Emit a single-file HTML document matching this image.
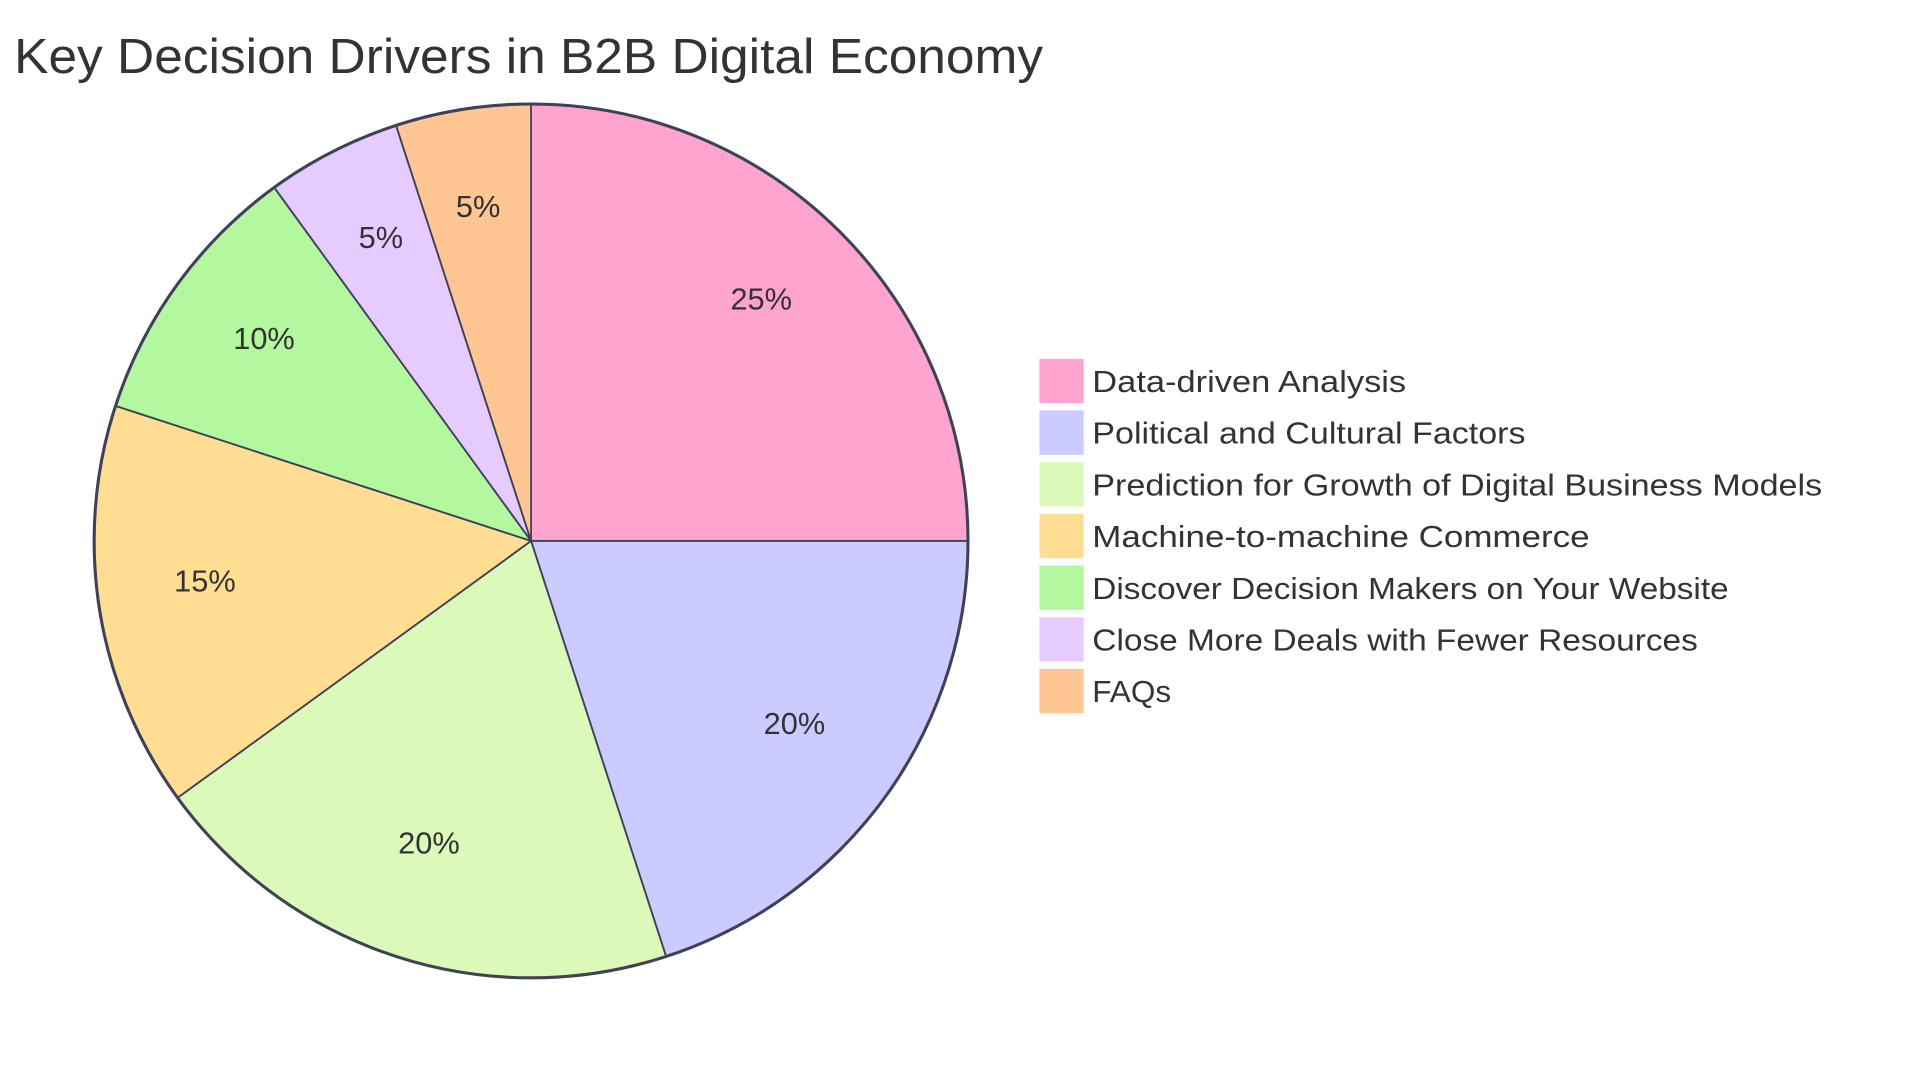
<!DOCTYPE html>
<html><head><meta charset="utf-8"><style>
html,body{margin:0;padding:0;background:#fff;width:1920px;height:1080px;overflow:hidden}
svg{display:block}
text{font-family:"Liberation Sans",sans-serif;fill:#333}
</style></head><body>
<svg width="1920" height="1080" viewBox="0.5 0.5 1560 877.5">
<text x="12" y="60" font-size="40" textLength="836" lengthAdjust="spacingAndGlyphs" style="fill:#333">Key Decision Drivers in B2B Digital Economy</text>
<g stroke="#3f4157" stroke-width="1.5" stroke-linejoin="round">
<path d="M432,440 L432,85 A355,355 0 0 1 787,440 Z" fill="#FFA3CF"/>
<path d="M432,440 L787,440 A355,355 0 0 1 541.7,777.6 Z" fill="#CBCBFF"/>
<path d="M432,440 L541.7,777.6 A355,355 0 0 1 144.8,648.7 Z" fill="#DBF9B8"/>
<path d="M432,440 L144.8,648.7 A355,355 0 0 1 94.4,330.3 Z" fill="#FFDE94"/>
<path d="M432,440 L94.4,330.3 A355,355 0 0 1 223.3,152.8 Z" fill="#B3F89E"/>
<path d="M432,440 L223.3,152.8 A355,355 0 0 1 322.3,102.4 Z" fill="#E6CBFF"/>
<path d="M432,440 L322.3,102.4 A355,355 0 0 1 432,85 Z" fill="#FFC694"/>
</g>
<circle cx="432" cy="440" r="355" fill="none" stroke="#3f4157" stroke-width="2.5"/>
<g font-size="25" text-anchor="middle">
<text x="619" y="252">25%</text>
<text x="646" y="597">20%</text>
<text x="349" y="694">20%</text>
<text x="167" y="481">15%</text>
<text x="215" y="284">10%</text>
<text x="310" y="202">5%</text>
<text x="389" y="177">5%</text>
</g>
<g>
<rect x="845" y="292" width="36" height="36" fill="#FFA3CF"/>
<rect x="845" y="334" width="36" height="36" fill="#CBCBFF"/>
<rect x="845" y="376" width="36" height="36" fill="#DBF9B8"/>
<rect x="845" y="418" width="36" height="36" fill="#FFDE94"/>
<rect x="845" y="460" width="36" height="36" fill="#B3F89E"/>
<rect x="845" y="502" width="36" height="36" fill="#E6CBFF"/>
<rect x="845" y="544" width="36" height="36" fill="#FFC694"/>
</g>
<g font-size="25">
<text x="888" y="319" textLength="255" lengthAdjust="spacingAndGlyphs">Data-driven Analysis</text>
<text x="888" y="361" textLength="352" lengthAdjust="spacingAndGlyphs">Political and Cultural Factors</text>
<text x="888" y="403" textLength="593" lengthAdjust="spacingAndGlyphs">Prediction for Growth of Digital Business Models</text>
<text x="888" y="445" textLength="404" lengthAdjust="spacingAndGlyphs">Machine-to-machine Commerce</text>
<text x="888" y="487" textLength="517" lengthAdjust="spacingAndGlyphs">Discover Decision Makers on Your Website</text>
<text x="888" y="529" textLength="492" lengthAdjust="spacingAndGlyphs">Close More Deals with Fewer Resources</text>
<text x="888" y="571" textLength="64" lengthAdjust="spacingAndGlyphs">FAQs</text>
</g>
</svg>
</body></html>
